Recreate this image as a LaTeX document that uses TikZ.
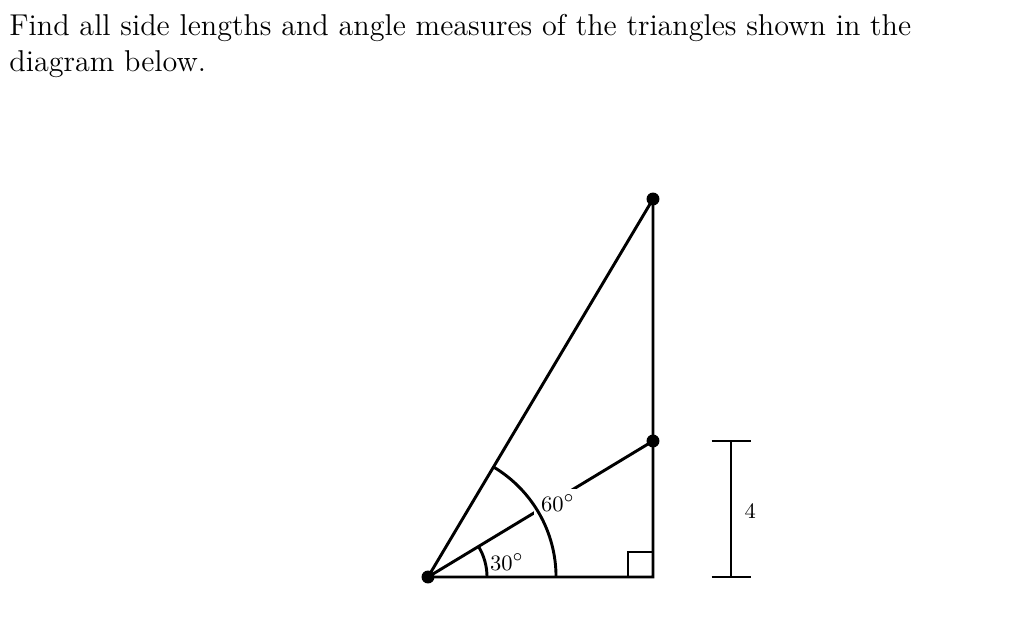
\documentclass[tikz,border=0pt]{standalone}
\usepackage{amsmath}
\usetikzlibrary{positioning,angles}

\begin{document}
\begin{tikzpicture}[x=0.41pt,y=0.41pt,line width=1.2pt,
  dot/.style={circle,fill,inner sep=0pt,minimum size=5.3pt},
  lbl/.style={font=\fontsize{9.5}{11}\selectfont,inner sep=1pt}]
\useasboundingbox (0,0) rectangle (1036,638);

\node[anchor=north west,align=left,inner sep=0pt,font=\fontsize{12.35}{14.8}\selectfont] (task) at (8,625)
  {Find all side lengths and angle measures of the triangles shown in the\\diagram below.};

\coordinate (A) at (428,61);
\coordinate (C) at (653,61);
\coordinate (D) at (653,197);
\coordinate (B) at (653,439);

\draw [-] (A) -- (C) -- (B) -- cycle;
\draw [-] (A) -- (D);

\node[lbl,fill=white,inner xsep=3pt,inner ysep=2pt] (l60) at (558,135) {$60^\circ$};
\pic[draw,angle radius=52.5pt] {angle=C--A--B};
\pic[draw,angle radius=24.2pt] {angle=C--A--D};
\node[lbl] (l30) at (507,76) {$30^\circ$};

\draw [-] (C) ++(-25,0) -- ++(0,25) -- ++(25,0);

\node[dot] (a) at (A) {};
\node[dot] (b) at (B) {};
\node[dot] (d) at (D) {};

\coordinate (top4) at (731,197);
\coordinate (bot4) at (731,61);
\draw [-] (top4) -- (bot4);
\draw [-] (top4) ++(-19.5,0) -- ++(39,0);
\draw [-] (bot4) ++(-19.5,0) -- ++(39,0);
\node[lbl,right =4pt of top4, yshift=-29pt] (len) {$4$};

\end{tikzpicture}
\end{document}
